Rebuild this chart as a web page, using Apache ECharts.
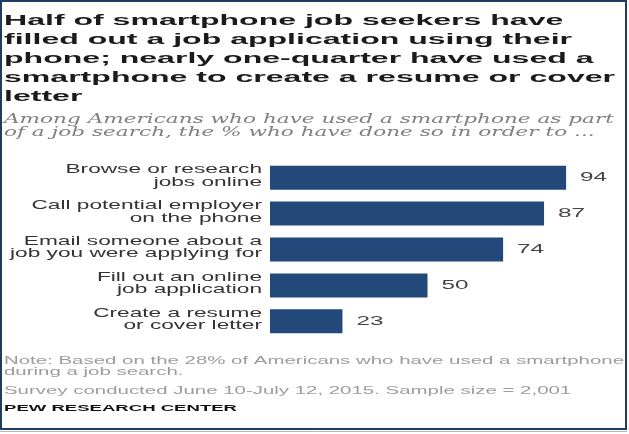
<!DOCTYPE html>
<html>
<head>
<meta charset="utf-8">
<script src="https://cdn.jsdelivr.net/npm/echarts@6/dist/echarts.min.js"></script>
<style>
html,body{margin:0;padding:0;background:#fff;}
#chart{width:629px;height:434px;}
</style>
</head>
<body>
<div id="chart"></div>
<script>
// ---- data ----
const categories = [
  'Browse or research\njobs online',
  'Call potential employer\non the phone',
  'Email someone about a\njob you were applying for',
  'Fill out an online\njob application',
  'Create a resume\nor cover letter'
];
const values = [94, 87, 74, 50, 23];
const titleLines = [
  'Half of smartphone job seekers have',
  'filled out a job application using their',
  'phone; nearly one-quarter have used a',
  'smartphone to create a resume or cover',
  'letter'
];
const subtitleLines = [
  'Among Americans who have used a smartphone as part',
  'of a job search, the % who have done so in order to ...'
];
const noteLines = [
  'Note: Based on the 28% of Americans who have used a smartphone',
  'during a job search.'
];
const surveyLine = 'Survey conducted June 10-July 12, 2015. Sample size = 2,001';
const sourceLine = 'PEW RESEARCH CENTER';

// ---- text measurement for horizontal stretch ----
const mctx = document.createElement('canvas').getContext('2d');
function measure(font, text) { mctx.font = font; return mctx.measureText(text).width; }

const SANS = '"Liberation Sans", Arial, sans-serif';
const titleFont = 'bold 15.5px ' + SANS;
const subFont = 'italic 12.5px "DejaVu Serif", serif';
const noteFont = '10.5px ' + SANS;
const pewFont = 'bold 8.5px ' + SANS;
const labelFont = '13px ' + SANS;
const valueFont = '12px ' + SANS;

const titleScale = 611 / measure(titleFont, titleLines[3]);
const subScale = 610 / measure(subFont, subtitleLines[0]);
const noteScale = 620 / measure(noteFont, noteLines[0]);
const pewScale = 233 / measure(pewFont, sourceLine);
const labelScale = 252 / measure(labelFont, 'job you were applying for');
const valueScale = 27 / measure(valueFont, '94');

const graphics = [];
const titleMid = [20.5, 39.5, 58.5, 77.5, 96.5];
titleLines.forEach((t, i) => graphics.push({
  type: 'text', x: 4, y: titleMid[i], scaleX: titleScale,
  style: { text: t, font: titleFont, fill: '#1b1b1b', textAlign: 'left', textVerticalAlign: 'middle' }
}));
const subMid = [119.5, 133];
subtitleLines.forEach((t, i) => graphics.push({
  type: 'text', x: 4, y: subMid[i], scaleX: subScale,
  style: { text: t, font: subFont, fill: '#808080', textAlign: 'left', textVerticalAlign: 'middle' }
}));
const noteMid = [361.5, 372.5];
noteLines.forEach((t, i) => graphics.push({
  type: 'text', x: 4, y: noteMid[i], scaleX: noteScale,
  style: { text: t, font: noteFont, fill: '#9c9c9c', textAlign: 'left', textVerticalAlign: 'middle' }
}));
graphics.push({
  type: 'text', x: 4, y: 391.5, scaleX: noteScale,
  style: { text: surveyLine, font: noteFont, fill: '#9c9c9c', textAlign: 'left', textVerticalAlign: 'middle' }
});
graphics.push({
  type: 'text', x: 4, y: 409, scaleX: pewScale,
  style: { text: sourceLine, font: pewFont, fill: '#111', textAlign: 'left', textVerticalAlign: 'middle' }
});
graphics.push({
  type: 'rect', shape: { x: 1, y: 1, width: 625, height: 428 },
  style: { fill: 'none', stroke: '#1f3d63', lineWidth: 2 }
});
graphics.push({
  type: 'line', shape: { x1: 0, y1: 431.5, x2: 627, y2: 431.5 },
  style: { stroke: '#b8b8b8', lineWidth: 1 }
});

const chart = echarts.init(document.getElementById('chart'), null, { renderer: 'canvas' });
chart.setOption({
  backgroundColor: '#ffffff',
  animation: false,
  grid: { left: 270, top: 159.7, width: 315, height: 179.6, containLabel: false },
  xAxis: {
    type: 'value', min: 0, max: 100,
    axisLine: { show: false }, axisTick: { show: false },
    axisLabel: { show: false }, splitLine: { show: false }
  },
  yAxis: {
    type: 'category', data: categories, inverse: true,
    axisLine: { show: false }, axisTick: { show: false },
    axisLabel: { show: false }, splitLine: { show: false }
  },
  graphic: graphics,
  series: [
    {
      type: 'bar', data: values, barWidth: 24,
      itemStyle: { color: '#22497a' }, silent: true
    },
    {
      type: 'custom',
      data: categories.map((c, i) => [0, i]),
      encode: { x: 0, y: 1 },
      silent: true,
      renderItem: function (params, api) {
        const idx = params.dataIndex;
        const p = api.coord([0, idx]);
        return {
          type: 'text', x: p[0] - 8, y: p[1] - 2, scaleX: labelScale,
          style: {
            text: categories[idx], font: labelFont, fill: '#333333',
            textAlign: 'right', textVerticalAlign: 'middle', lineHeight: 12.7
          }
        };
      }
    },
    {
      type: 'custom',
      data: values.map((v, i) => [v, i]),
      encode: { x: 0, y: 1 },
      silent: true,
      renderItem: function (params, api) {
        const idx = params.dataIndex;
        const p = api.coord([values[idx], idx]);
        return {
          type: 'text', x: p[0] + 14, y: p[1] + 0.5, scaleX: valueScale,
          style: {
            text: String(values[idx]), font: valueFont, fill: '#444444',
            textAlign: 'left', textVerticalAlign: 'middle'
          }
        };
      }
    }
  ]
});
</script>
</body>
</html>
